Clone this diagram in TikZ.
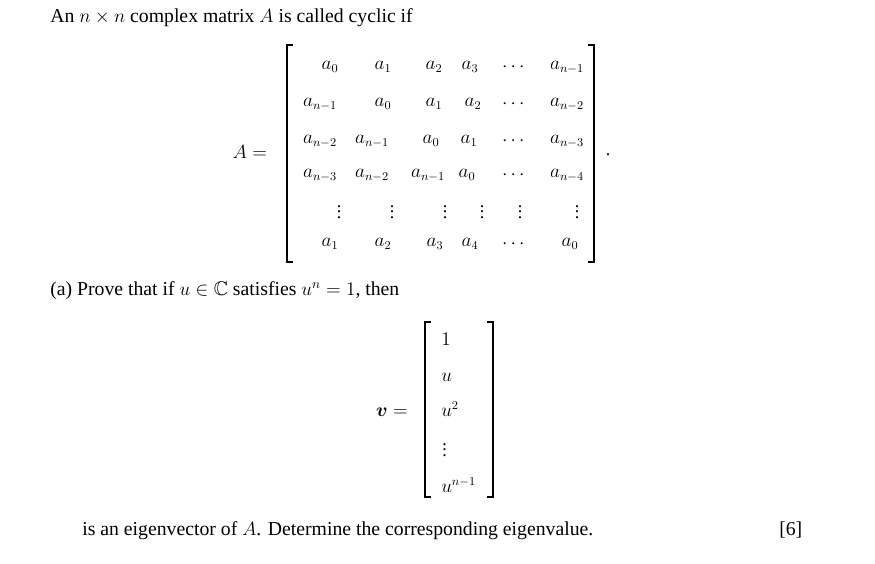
\documentclass[tikz,border=0pt]{standalone}
\usepackage{amsmath,amssymb,bm}
\usepackage{fontspec}
\setmainfont{Liberation Serif}
\begin{document}
\begin{tikzpicture}[x=0.75pt,y=-0.75pt,
  t/.style={anchor=base west,inner sep=0pt,font=\fontsize{14.8}{17}\selectfont},
  m/.style={inner sep=0pt,font=\fontsize{13.5}{15}\selectfont},
  br/.style={line width=0.8pt}]
\useasboundingbox (0,0) rectangle (875,564);
\node[t] (l1) at (50,22) {An $n\times n$ complex matrix $A$ is called cyclic if};
\node[t] (l2) at (50,295) {(a) Prove that if $u\in\mathbb{C}$ satisfies $u^n=1$, then};
\node[t] (l3) at (82,535) {is an eigenvector of $A$. Determine the corresponding eigenvalue.};
\node[t] (mk) at (779,535) {[6]};
\node[m] (Aeq) at (250,152) {$A=$};
\node[m] (dot) at (608,155) {.};
% matrix brackets
\draw[br] (293,45) -- (287,45) -- (287,262) -- (293,262);
\draw[br] (588,45) -- (594,45) -- (594,262) -- (588,262);
% row 1
\node[m] (a11) at (330,67) {$a_0$};
\node[m] (a12) at (383,67) {$a_1$};
\node[m] (a13) at (434,67) {$a_2$};
\node[m] (a14) at (470,67) {$a_3$};
\node[m] (a15) at (515,67) {$\cdots$};
\node[m] (a16) at (567,67) {$a_{n-1}$};
% row 2
\node[m] (a21) at (320,104) {$a_{n-1}$};
\node[m] (a22) at (383,104) {$a_0$};
\node[m] (a23) at (434,104) {$a_1$};
\node[m] (a24) at (473,104) {$a_2$};
\node[m] (a25) at (515,104) {$\cdots$};
\node[m] (a26) at (567,104) {$a_{n-2}$};
% row 3
\node[m] (a31) at (320,141) {$a_{n-2}$};
\node[m] (a32) at (372,141) {$a_{n-1}$};
\node[m] (a33) at (431,141) {$a_0$};
\node[m] (a34) at (469,141) {$a_1$};
\node[m] (a35) at (515,141) {$\cdots$};
\node[m] (a36) at (567,141) {$a_{n-3}$};
% row 4
\node[m] (a41) at (320,175) {$a_{n-3}$};
\node[m] (a42) at (372,175) {$a_{n-2}$};
\node[m] (a43) at (428,175) {$a_{n-1}$};
\node[m] (a44) at (467,175) {$a_0$};
\node[m] (a45) at (515,175) {$\cdots$};
\node[m] (a46) at (567,175) {$a_{n-4}$};
% row 5
\node[m] (a51) at (339,208) {$\vdots$};
\node[m] (a52) at (392,208) {$\vdots$};
\node[m] (a53) at (445,208) {$\vdots$};
\node[m] (a54) at (482,208) {$\vdots$};
\node[m] (a55) at (520,208) {$\vdots$};
\node[m] (a56) at (577,208) {$\vdots$};
% row 6
\node[m] (a61) at (330,244) {$a_1$};
\node[m] (a62) at (383,244) {$a_2$};
\node[m] (a63) at (435,244) {$a_3$};
\node[m] (a64) at (470,244) {$a_4$};
\node[m] (a65) at (515,244) {$\cdots$};
\node[m] (a66) at (570,244) {$a_0$};
% vector
\node[m] (veq) at (392,412) {$\bm{v}=$};
\draw[br] (431,322) -- (425,322) -- (425,497) -- (431,497);
\draw[br] (487,322) -- (493,322) -- (493,497) -- (487,497);
\node[m,anchor=west] (v1) at (441,339) {$1$};
\node[m,anchor=west] (v2) at (441,377) {$u$};
\node[m,anchor=west] (v3) at (441,409) {$u^2$};
\node[m,anchor=west] (v4) at (442,446) {$\vdots$};
\node[m,anchor=west] (v5) at (441,485) {$u^{n-1}$};
\end{tikzpicture}
\end{document}
